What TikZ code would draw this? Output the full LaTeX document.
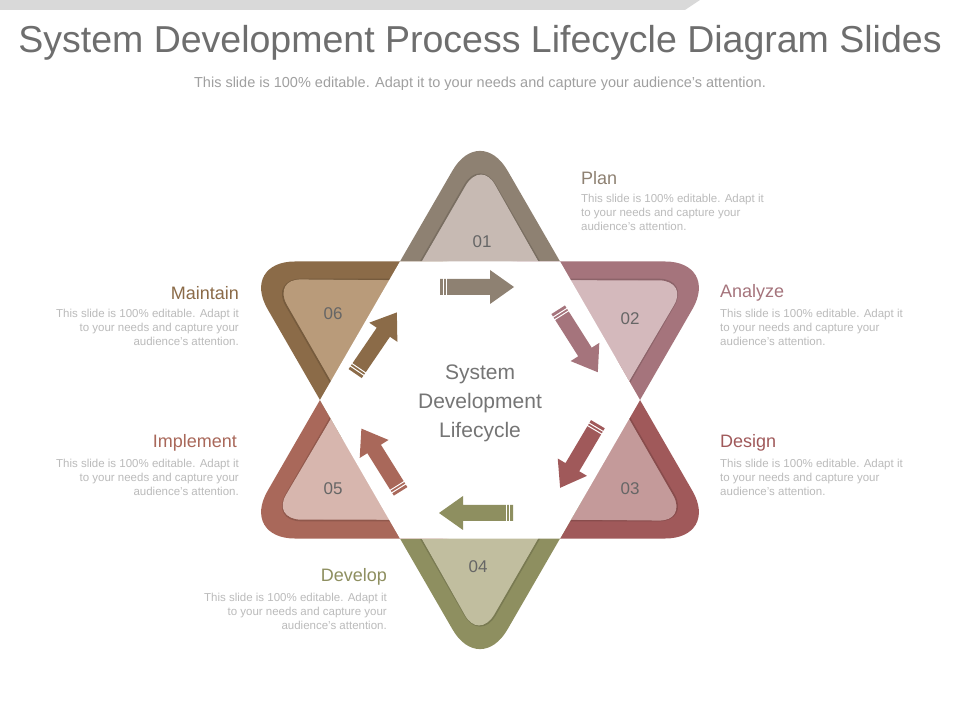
\documentclass[tikz,border=0pt]{standalone}
\usepackage{fontspec}
\setmainfont{Liberation Sans}
\usetikzlibrary{calc}
\definecolor{bA}{HTML}{8E8172}\definecolor{iA}{HTML}{C7BAB3}
\definecolor{bB}{HTML}{A5747C}\definecolor{iB}{HTML}{D4B9BC}
\definecolor{bC}{HTML}{A0595A}\definecolor{iC}{HTML}{C49A9A}
\definecolor{bD}{HTML}{8E8F60}\definecolor{iD}{HTML}{C1BE9F}
\definecolor{bE}{HTML}{A9685A}\definecolor{iE}{HTML}{D7B6AE}
\definecolor{bF}{HTML}{8B6B48}\definecolor{iF}{HTML}{B99B7A}
\definecolor{titlegray}{HTML}{6E6E6E}
\definecolor{subgray}{HTML}{A0A0A0}
\definecolor{descgray}{HTML}{BBBBBB}
\definecolor{numgray}{HTML}{666666}
\newcommand\startri[3]{% angle, border colour, inner colour
  \coordinate (T) at ($(C)+(#1:277)$);
  \coordinate (V1) at ($(C)+(#1-30:160)$);
  \coordinate (V2) at ($(C)+(#1+30:160)$);
  \coordinate (E1) at ($(T)!1.6!(V1)$);
  \coordinate (E2) at ($(T)!1.6!(V2)$);
  \coordinate (M) at ($(C)+(#1:138.6)$);
  \fill[#2, rounded corners=55pt] (E1) -- (T) -- (E2) -- cycle;
  \draw[#2!85!black, line width=1.6pt, fill=#3, rounded corners=30pt]
    ($(M)!0.74!(E1)$) -- ($(M)!0.74!(T)$) -- ($(M)!0.74!(E2)$) -- cycle;
  \fill[#3, rounded corners=28pt]
    ($(M)!0.73!(E1)+(#1+60:1.8)$) -- ($(M)!0.73!(T)+(#1-90:1.2)$) -- ($(M)!0.73!(E2)+(#1-60:0.6)$) -- cycle;
}
\newcommand\blockarrow[4]{% x, y (down), angle, colour
  \begin{scope}[shift={(#1,720-#2)}, rotate=#3]
    \fill[#4] (-37,-8) -- (13,-8) -- (13,-17) -- (37,0) -- (13,17) -- (13,8) -- (-37,8) -- cycle;
    \fill[white] (-34,-9) rectangle (-33,9);
    \fill[white] (-31,-9) rectangle (-30,9);
  \end{scope}}
\tikzset{
  num/.style={text=numgray, font=\fontsize{17}{20}\selectfont},
  head/.style={font=\fontsize{18}{21}\selectfont},
  descl/.style={text=descgray, font=\fontsize{11.5}{14}\selectfont, align=left, anchor=north west, inner sep=0},
  descr/.style={text=descgray, font=\fontsize{11.5}{14}\selectfont, align=right, anchor=north east, inner sep=0},
}
\begin{document}
\begin{tikzpicture}[x=1pt,y=1pt]
\useasboundingbox (0,0) rectangle (960,720);
\fill[white] (0,0) rectangle (960,720);
\fill[black!15] (0,720) -- (700,720) -- (685,710) -- (0,710) -- cycle;
\node[text=titlegray, font=\fontsize{37.5}{40}\selectfont] (title) at (480,677) {System Development Process Lifecycle Diagram Slides};
\node[text=subgray, font=\fontsize{14.5}{16}\selectfont] (sub) at (480,636) {This slide is 100\% editable. Adapt it to your needs and capture your audience's attention.};
\coordinate (C) at (480,320);
\startri{90}{bA}{iA}
\startri{30}{bB}{iB}
\startri{-30}{bC}{iC}
\startri{-90}{bD}{iD}
\startri{-150}{bE}{iE}
\startri{150}{bF}{iF}
\fill[white] ($(C)+(0:160)$) \foreach \a in {60,120,...,300}{ -- ($(C)+(\a:160)$)} -- cycle;
\node[num] (n1) at (482,478) {01};
\node[num] (n2) at (630,401) {02};
\node[num] (n3) at (630,231) {03};
\node[num] (n4) at (478,153) {04};
\node[num] (n5) at (333,231) {05};
\node[num] (n6) at (333,406) {06};
\blockarrow{477}{287}{0}{bA}
\blockarrow{578}{341}{-57.6}{bB}
\blockarrow{579}{456}{-120.7}{bC}
\blockarrow{476}{513}{180}{bD}
\blockarrow{381}{460}{122}{bE}
\blockarrow{376}{343}{55.7}{bF}
\node[text=numgray!90, font=\fontsize{21}{29}\selectfont, align=center] (ctr) at (480,317) {System\\Development\\Lifecycle};
\node[head, text=bA, anchor=west, inner sep=0] (plan) at (581,542) {Plan};
\node[descl] (dplan) at (581,526) {This slide is 100\% editable. Adapt it\\to your needs and capture your\\audience's attention.};
\node[head, text=bB, anchor=west, inner sep=0] (an) at (720,427) {Analyze};
\node[descl] (dan) at (720,411) {This slide is 100\% editable. Adapt it\\to your needs and capture your\\audience's attention.};
\node[head, text=bC, anchor=west, inner sep=0] (de) at (720,277) {Design};
\node[descl] (dde) at (720,261) {This slide is 100\% editable. Adapt it\\to your needs and capture your\\audience's attention.};
\node[head, text=bF, anchor=east, inner sep=0] (ma) at (239,427) {Maintain};
\node[descr] (dma) at (239,411) {This slide is 100\% editable. Adapt it\\to your needs and capture your\\audience's attention.};
\node[head, text=bE, anchor=east, inner sep=0] (im) at (237,277) {Implement};
\node[descr] (dim) at (239,261) {This slide is 100\% editable. Adapt it\\to your needs and capture your\\audience's attention.};
\node[head, text=bD, anchor=east, inner sep=0] (dv) at (387,143) {Develop};
\node[descr] (ddv) at (387,127) {This slide is 100\% editable. Adapt it\\to your needs and capture your\\audience's attention.};
\end{tikzpicture}
\end{document}
